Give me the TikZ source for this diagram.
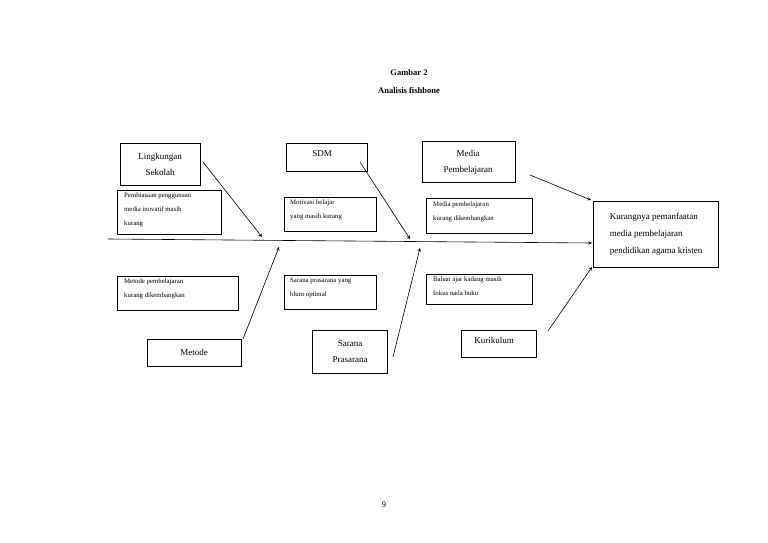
\documentclass[tikz,border=0pt]{standalone}
\usepackage{fontspec}
\setmainfont{Liberation Serif}
\begin{document}
\begin{tikzpicture}[x=1pt,y=-1pt,
 bx/.style={draw,thick,fill=white},
 tx/.style={font=\fontsize{9}{16}\selectfont,align=center},
 st/.style={font=\fontsize{6.8}{14}\selectfont,align=left,anchor=north west,inner sep=0pt},
 ar/.style={->,>=stealth,semithick}]
\useasboundingbox[fill=white] (0,0) rectangle (768,543);
\node[font=\bfseries\fontsize{8.5}{10}\selectfont] (t1) at (409,73) {Gambar 2};
\node[font=\bfseries\fontsize{8.5}{10}\selectfont] (t2) at (409,91) {Analisis fishbone};
\node[font=\fontsize{8.5}{10}\selectfont] (pg) at (384,505) {9};
% boxes
\draw[bx] (120,143) rectangle (200,185); \node[tx] (ls) at (160,164) {Lingkungan\\Sekolah};
\draw[bx] (286,143) rectangle (367,171); \node[tx] (sdm) at (322,154) {SDM};
\draw[bx] (422,141) rectangle (515,182); \node[tx] (mp) at (468,162) {Media\\Pembelajaran};
\draw[bx] (117,190) rectangle (221,234); \node[st] (pb) at (124,193) {Pembiasaan penggunaan\\media inovatif masih\\kurang};
\draw[bx] (284,197) rectangle (376,231); \node[st] (mv) at (290,200) {Motivasi belajar\\yang masih kurang};
\draw[bx] (426,198) rectangle (532,233); \node[st] (mk) at (433,202) {Media pembelajaran\\kurang dikembangkan};
\draw[bx] (593,201) rectangle (718,267); \node[tx,font=\fontsize{9}{17}\selectfont,align=left] (ef) at (656,234) {Kurangnya pemanfaatan\\media pembelajaran\\pendidikan agama kristen};
\draw[bx] (117,276) rectangle (238,310); \node[st] (mt) at (124,279) {Metode pembelajaran\\kurang dikembangkan};
\draw[bx] (284,275) rectangle (376,309); \node[st] (sp) at (290,278) {Sarana prasarana yang\\blum optimal};
\draw[bx] (426,274) rectangle (532,304); \node[st] (ba) at (433,277) {Bahan ajar kadang masih\\fokus nada buku};
\draw[bx] (147,339) rectangle (241,366); \node[tx] (me) at (194,352) {Metode};
\draw[bx] (312,330) rectangle (387,373); \node[tx] (sa) at (350,352) {Sarana\\Prasarana};
\draw[bx] (461,330) rectangle (536,357); \node[tx] (ku) at (494,340) {Kurikulum};
% spine and bones
\coordinate (s0) at (108,239); \coordinate (s1) at (592,243);
\draw[ar] (s0) -- (s1);
\coordinate (a0) at (203,162); \coordinate (a1) at (262,237); \draw[ar] (a0) -- (a1);
\coordinate (b0) at (360,162); \coordinate (b1) at (410,239); \draw[ar] (b0) -- (b1);
\coordinate (c0) at (530,175); \coordinate (c1) at (591,200); \draw[ar] (c0) -- (c1);
\coordinate (d0) at (243,339); \coordinate (d1) at (279,247); \draw[ar] (d0) -- (d1);
\coordinate (e0) at (393,357); \coordinate (e1) at (420,248); \draw[ar] (e0) -- (e1);
\coordinate (f0) at (548,331); \coordinate (f1) at (592,267); \draw[ar] (f0) -- (f1);
\end{tikzpicture}
\end{document}
